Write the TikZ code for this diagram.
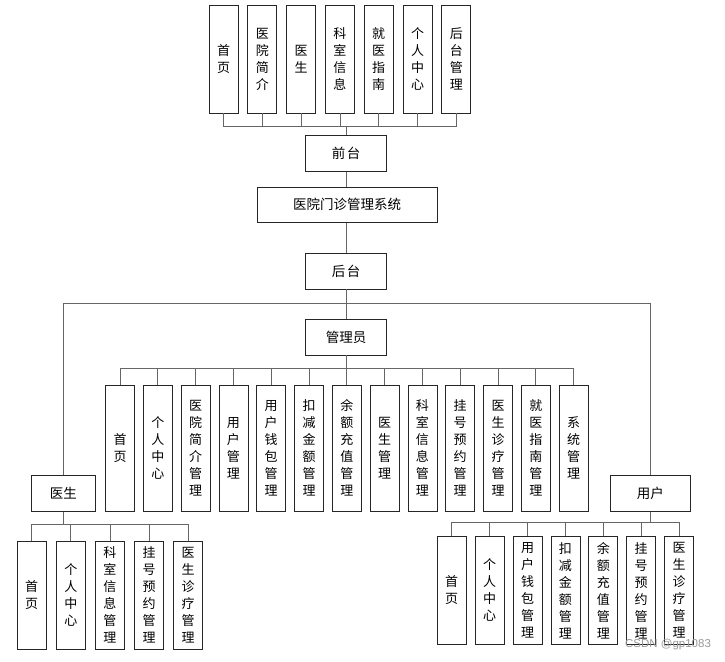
\documentclass[tikz,border=0pt]{standalone}
\usepackage{fontspec}
\newfontfamily\cjk{Noto Sans CJK SC}
\newfontfamily\wmfont{Liberation Sans}
\begin{document}
\begin{tikzpicture}[x=1pt,y=-1pt,
  box/.style={draw=black!85,line width=0.8pt,inner sep=0pt,align=center,
    font=\cjk\fontsize{13}{17}\selectfont},
  vbox/.style={box,minimum width=29pt,minimum height=#1},
  hbox/.style={box,minimum height=35.6pt,font=\cjk\fontsize{13.5}{17}\selectfont},
  conn/.style={draw=black!60,line width=0.8pt}]
\useasboundingbox (0,0) rectangle (725,661);
% top row
\foreach \i/\t in {0/首\\页,1/医\\院\\简\\介,2/医\\生,3/科\\室\\信\\息,4/就\\医\\指\\南,5/个\\人\\中\\心,6/后\\台\\管\\理}
  \node[vbox=108pt] (t\i) at ({223.5+38.8*\i},59) {\t};
\node[hbox,minimum width=80.8pt] (qian) at (346,153.4) {前\hspace{1.5pt}台};
\node[hbox,minimum width=180pt] (sys) at (347,204.8) {医院门诊管理系统};
\node[hbox,minimum width=81pt] (hou) at (346,271.2) {后\hspace{1.5pt}台};
\node[hbox,minimum width=81pt] (adm) at (346,337.2) {管理员};
% admin row
\foreach \i/\t in {0/首\\页,1/个\\人\\中\\心,2/医\\院\\简\\介\\管\\理,3/用\\户\\管\\理,4/用\\户\\钱\\包\\管\\理,5/扣\\减\\金\\额\\管\\理,6/余\\额\\充\\值\\管\\理,7/医\\生\\管\\理,8/科\\室\\信\\息\\管\\理,9/挂\\号\\预\\约\\管\\理,10/医\\生\\诊\\疗\\管\\理,11/就\\医\\指\\南\\管\\理,12/系\\统\\管\\理}
  \node[vbox=126pt] (a\i) at ({120+37.8*\i},448) {\t};
\node[hbox,minimum width=63.3pt] (doc) at (63.3,493.5) {医生};
\node[hbox,minimum width=80.7pt] (usr) at (650.3,493.5) {用户};
\foreach \i/\t in {0/首\\页,1/个\\人\\中\\心,2/科\\室\\信\\息\\管\\理,3/挂\\号\\预\\约\\管\\理,4/医\\生\\诊\\疗\\管\\理}
  \node[vbox=108.3pt] (d\i) at ({31.7+39.1*\i},595.2) {\t};
\foreach \i/\t in {0/首\\页,1/个\\人\\中\\心,2/用\\户\\钱\\包\\管\\理,3/扣\\减\\金\\额\\管\\理,4/余\\额\\充\\值\\管\\理,5/挂\\号\\预\\约\\管\\理,6/医\\生\\诊\\疗\\管\\理}
  \node[vbox=107.3pt] (u\i) at ({451.7+37.9*\i},590.4) {\t};
% connectors
\coordinate (tb) at (346,126);
\foreach \i in {0,...,6} \draw[conn] (t\i.south) |- (tb);
\draw[conn] (tb) -- (qian.north);
\draw[conn] (qian.south) -- (qian.south |- sys.north);
\draw[conn] (sys.south -| hou.north) -- (hou.north);
\draw[conn] (hou.south) -- (adm.north);
\coordinate (hl) at (346,303);
\draw[conn] (hl) -| (doc.north);
\draw[conn] (hl) -| (usr.north);
\coordinate (ab) at (346,368.3);
\draw[conn] (adm.south) -- (ab);
\foreach \i in {0,...,12} \draw[conn] (ab) -| (a\i.north);
\coordinate (db) at (63.3,524.3);
\draw[conn] (doc.south) -- (db);
\foreach \i in {0,...,4} \draw[conn] (db) -| (d\i.north);
\coordinate (ub) at (650.3,522.3);
\draw[conn] (usr.south) -- (ub);
\foreach \i in {0,...,6} \draw[conn] (ub) -| (u\i.north);
\node[text=black!40,font=\wmfont\fontsize{11.5}{13}\selectfont,inner sep=0pt] (wm) at (668,645) {CSDN @gp1083};
\end{tikzpicture}
\end{document}
